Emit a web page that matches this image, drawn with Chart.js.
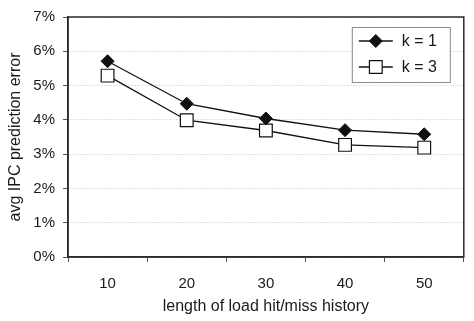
<!DOCTYPE html>
<html>
<head>
<meta charset="utf-8">
<script src="https://cdn.jsdelivr.net/npm/chart.js@4/dist/chart.umd.min.js"></script>
<style>
  html, body { margin: 0; padding: 0; background: #fff; }
  #wrap { width: 474px; height: 321px; position: relative; }
</style>
</head>
<body>
<div id="wrap"><canvas id="chart"></canvas></div>
<script>
// history lengths on the x axis
const historyLengths = ['10', '20', '30', '40', '50'];
// avg IPC prediction error, in percent
const errorK1 = [5.71, 4.47, 4.04, 3.70, 3.58];
const errorK3 = [5.29, 3.99, 3.69, 3.27, 3.19];
const seriesLabels = ['k = 1', 'k = 3'];

const textColor = '#1a1a1a';
const fontFamily = 'Liberation Sans, Arial, sans-serif';

// frame around the plot area (top and right sides too)
const frame = {
  id: 'frame',
  beforeDatasetsDraw(chart) {
    const { ctx, chartArea: a } = chart;
    ctx.save();
    ctx.strokeStyle = '#2a2a2a';
    ctx.lineWidth = 1.5;
    ctx.strokeRect(a.left, a.top, a.right - a.left, a.bottom - a.top);
    ctx.restore();
  }
};

// boxed legend with line + marker samples, as in the original
const boxLegend = {
  id: 'boxLegend',
  afterDraw(chart) {
    const { ctx, chartArea: a } = chart;
    const x0 = a.right - 112, y0 = a.top + 10;
    const w = 98, h = 55;
    ctx.save();
    ctx.fillStyle = '#fff';
    ctx.fillRect(x0, y0, w, h);
    ctx.strokeStyle = '#8a8a8a';
    ctx.lineWidth = 1;
    ctx.strokeRect(x0 + 0.5, y0 + 0.5, w, h);

    chart.data.datasets.forEach((ds, i) => {
      const y = y0 + 14 + i * 26;
      ctx.strokeStyle = '#111';
      ctx.lineWidth = 1.3;
      ctx.beginPath();
      ctx.moveTo(x0 + 7, y);
      ctx.lineTo(x0 + 41, y);
      ctx.stroke();
      ctx.fillStyle = ds.pointBackgroundColor;
      ctx.strokeStyle = ds.pointBorderColor;
      ctx.lineWidth = ds.pointBorderWidth;
      Chart.helpers.drawPoint(ctx, {
        pointStyle: ds.pointStyle,
        radius: ds.pointRadius,
        borderWidth: ds.pointBorderWidth
      }, x0 + 24, y);
      ctx.fillStyle = textColor;
      ctx.font = '16px ' + fontFamily;
      ctx.textBaseline = 'middle';
      ctx.textAlign = 'left';
      ctx.fillText(ds.label, x0 + 50, y + 1);
    });
    ctx.restore();
  }
};

new Chart(document.getElementById('chart'), {
  type: 'line',
  data: {
    labels: historyLengths,
    datasets: [
      {
        label: seriesLabels[0],
        data: errorK1,
        borderColor: '#111',
        borderWidth: 1.3,
        pointStyle: 'rectRot',
        pointRadius: 6.5,
        pointBackgroundColor: '#111',
        pointBorderColor: '#111',
        pointBorderWidth: 1
      },
      {
        label: seriesLabels[1],
        data: errorK3,
        borderColor: '#111',
        borderWidth: 1.3,
        pointStyle: 'rect',
        pointRadius: 9,
        pointBackgroundColor: '#fff',
        pointBorderColor: '#111',
        pointBorderWidth: 1.2
      }
    ]
  },
  options: {
    responsive: true,
    maintainAspectRatio: false,
    animation: false,
    layout: { padding: { top: 13, right: 9, left: 0, bottom: 0 } },
    scales: {
      x: {
        type: 'category',
        offset: true,
        grid: {
          offset: true,
          drawOnChartArea: false,
          drawTicks: true,
          tickLength: 5,
          tickColor: '#555'
        },
        border: { color: '#2a2a2a', width: 1.5 },
        ticks: {
          color: textColor,
          padding: 13,
          font: { family: fontFamily, size: 15 }
        },
        title: {
          display: true,
          text: 'length of load hit/miss history',
          color: textColor,
          padding: { top: 0, bottom: 5 },
          font: { family: fontFamily, size: 16 }
        },
        afterFit(scale) { scale.height = 64; }
      },
      y: {
        min: 0,
        max: 7,
        ticks: {
          stepSize: 1,
          color: textColor,
          padding: 8,
          font: { family: fontFamily, size: 15 },
          callback: v => v + '%'
        },
        grid: {
          color: '#c4c4c4',
          lineWidth: 1,
          tickLength: 5,
          tickColor: '#555',
          tickBorderDash: []
        },
        border: { color: '#2a2a2a', width: 1.5, dash: [1, 2] },
        title: {
          display: true,
          text: 'avg IPC prediction error',
          color: textColor,
          padding: { top: 6, bottom: 0 },
          font: { family: fontFamily, size: 16 }
        },
        afterFit(scale) { scale.width = 68; }
      }
    },
    plugins: {
      legend: { display: false },
      tooltip: { enabled: false }
    }
  },
  plugins: [frame, boxLegend]
});
</script>
</body>
</html>
